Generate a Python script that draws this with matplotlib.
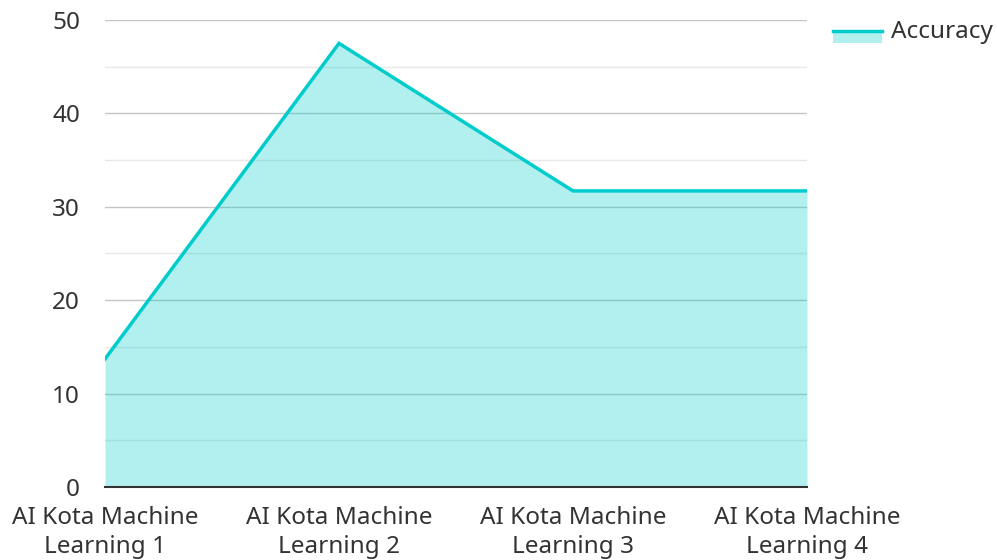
import matplotlib

matplotlib.use("Agg")
import matplotlib.pyplot as plt
from matplotlib.lines import Line2D
from matplotlib.patches import Rectangle

plt.rcParams["font.family"] = ["Noto Sans", "DejaVu Sans"]

categories = [
    "AI Kota Machine\nLearning 1",
    "AI Kota Machine\nLearning 2",
    "AI Kota Machine\nLearning 3",
    "AI Kota Machine\nLearning 4",
]
accuracy = [13.7, 47.5, 31.7, 31.7]
y_ticks = [0, 10, 20, 30, 40, 50]
series_name = "Accuracy"

LINE_COLOR = "#00CCCC"
TEXT_COLOR = "#333333"
FONT_SIZE = 17.5

fig = plt.figure(figsize=(9.97, 5.6), dpi=100)
ax = fig.add_axes([0.1053, 0.1304, 0.7041, 0.8339])

x = list(range(len(categories)))
ax.fill_between(x, accuracy, 0, color=LINE_COLOR, alpha=0.3, linewidth=0, zorder=3)
ax.plot(x, accuracy, color=LINE_COLOR, linewidth=2.5, zorder=4, solid_joinstyle="miter")

ax.set_xlim(0, len(categories) - 1)
ax.set_ylim(0, 50)
ax.set_yticks(y_ticks)
ax.set_yticks([5, 15, 25, 35, 45], minor=True)
ax.set_xticks(x)
ax.set_xticklabels(categories, fontsize=FONT_SIZE, color=TEXT_COLOR, linespacing=1.25)
ax.tick_params(axis="y", labelsize=FONT_SIZE, labelcolor=TEXT_COLOR, length=0, pad=18)
ax.tick_params(axis="y", which="minor", length=0)
ax.tick_params(axis="x", length=0, pad=14)

ax.grid(axis="y", which="major", color="#c6c6c6", linewidth=1, zorder=1)
ax.grid(axis="y", which="minor", color="#e8e8e8", linewidth=1, zorder=1)
ax.set_axisbelow(True)

for side in ["top", "right", "left"]:
    ax.spines[side].set_visible(False)
ax.spines["bottom"].set_color(TEXT_COLOR)
ax.spines["bottom"].set_linewidth(1.5)
ax.spines["bottom"].set_zorder(5)

# legend drawn by hand: line on top of a filled swatch
fig.add_artist(Rectangle((833 / 997, 1 - 43 / 560), 49 / 997, 12 / 560,
                         transform=fig.transFigure, facecolor=LINE_COLOR, alpha=0.3,
                         linewidth=0))
fig.add_artist(Line2D([833 / 997, 882 / 997], [1 - 31 / 560, 1 - 31 / 560],
                      transform=fig.transFigure, color=LINE_COLOR, linewidth=2.5))
fig.text(891 / 997, 1 - 32 / 560, series_name, fontsize=FONT_SIZE, color=TEXT_COLOR, va="center")

fig.savefig("out.png", dpi=100)
